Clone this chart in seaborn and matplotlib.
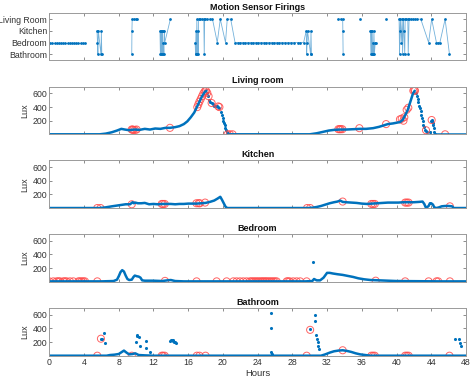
import numpy as np
import pandas as pd
import matplotlib
matplotlib.use('Agg')
import matplotlib.pyplot as plt
import seaborn as sns

nan = np.nan

# ---------------- data ----------------
room_names = ['Bathroom', 'Bedroom', 'Kitchen', 'Living Room']
room_code = {'Ba': 1, 'Be': 2, 'K': 3, 'L': 4}
hour_ticks = list(range(0, 49, 4))
lux_ticks = [200, 400, 600]

motion_t = [
    0.1, 0.35, 0.6, 0.85, 1.1, 1.35, 1.6, 1.85, 2.1, 2.35, 2.6, 2.85, 3.1, 3.35, 3.6, 3.85, 4.1, None,
    5.5, 5.55, 5.6, 5.65, 5.95, 6.0, 6.05, None,
    9.5, 9.52, 9.55, 9.75, 9.95, 10.05, None,
    12.75, 12.8, 12.85, 12.9, 12.95, 13.0, 13.05, 13.1, 13.15, 13.2, 13.25, 13.3, 13.95, None,
    16.8, 16.85, 16.9, 16.95, 17.0, 17.05, 17.1, 17.15, 17.2, 17.4, 17.6, 17.8, 17.85, 17.9, 18.2, 18.5, 18.8, 19.35, 19.7, 20.3, 20.5, 20.9, 21.4,
    21.7, 22.0, 22.3, 22.6, 22.9, 23.2, 23.5, 23.8, 24.1, 24.4, 24.7, 25.0, 25.3, 25.6, 25.9, 26.2, 26.5, 26.8, 27.2, 27.5, 27.9, 28.2, 28.6, 28.9, 29.3,
    29.6, 29.65, 29.7, 29.75, 30.1, 30.15, 30.2, None,
    33.3, 33.55, 33.8, 33.82, 33.85, None,
    35.8, None,
    37.0, 37.05, 37.1, 37.15, 37.2, 37.25, 37.3, 37.35, 37.4, 37.45, 37.55, 37.6, None,
    38.8, None,
    40.3, 40.35, 40.4, 40.45, 40.55, 40.65, 40.7, 40.8, 40.85, 40.95, 41.0, 41.15, 41.3, 41.35, 41.45, 41.7, 41.95, 42.15, 42.4, 42.8, 43.7, 44.05, 44.6, 44.8, 45.0, 45.6, 46.1,
]
motion_room = [
    'Be', 'Be', 'Be', 'Be', 'Be', 'Be', 'Be', 'Be', 'Be', 'Be', 'Be', 'Be', 'Be', 'Be', 'Be', 'Be', 'Be', None,
    'K', 'Be', 'Ba', 'K', 'Ba', 'K', 'Ba', None,
    'Ba', 'K', 'L', 'L', 'L', 'L', None,
    'K', 'Ba', 'K', 'Ba', 'K', 'Ba', 'K', 'Ba', 'Be', 'Ba', 'K', 'Be', 'L', None,
    'Be', 'Ba', 'K', 'Ba', 'L', 'Ba', 'K', 'Ba', 'L', 'L', 'L', 'L', 'Ba', 'L', 'L', 'L', 'L', 'Be', 'L', 'Be', 'L', 'L', 'Be',
    'Be', 'Be', 'Be', 'Be', 'Be', 'Be', 'Be', 'Be', 'Be', 'Be', 'Be', 'Be', 'Be', 'Be', 'Be', 'Be', 'Be', 'Be', 'Be', 'Be', 'Be', 'Be', 'Be', 'Be', 'Be',
    'K', 'Ba', 'Be', 'K', 'Ba', 'K', 'Ba', None,
    'L', 'L', 'L', 'K', 'Ba', None,
    'L', None,
    'K', 'Ba', 'K', 'Ba', 'K', 'Ba', 'Be', 'Ba', 'K', 'Ba', 'Be', 'Be', None,
    'L', None,
    'L', 'Ba', 'K', 'L', 'Be', 'L', 'Ba', 'L', 'K', 'Ba', 'L', 'L', 'L', 'Ba', 'L', 'L', 'L', 'L', 'L', 'L', 'Be', 'L', 'Be', 'Be', 'Be', 'L', 'Ba',
]

# Living room
lr_t = [0, 5.8, 6.5, 7.2, 7.8, 8.3, 8.7, 9.2, 9.8, 10.4, 11.0, 11.6, 12.2, 12.8, 13.4, 13.9, 14.5, 15.0, 15.5, 15.9,
        16.3, 16.7, 17.0, 17.3, 17.6, 17.9, 18.1, nan, 20.6, 30.0, 30.8, 31.5, 32.2, 32.8, 33.5, 34.2, 35.0, 35.8, 36.5, 37.3,
        38.0, 38.5, 39.0, 39.6, 40.0, 40.4, 40.7, 41.0, 41.3, 41.6, 41.9, 42.1, nan, 44.5, 48]
lr_lux = [0, 0, 10, 30, 55, 80, 70, 60, 70, 65, 80, 70, 85, 80, 95, 95, 105, 120, 150, 190,
          250, 320, 400, 480, 560, 620, 640, nan, 0, 0, 15, 35, 55, 65, 70, 70, 75, 80, 80, 90,
          110, 130, 150, 160, 170, 180, 210, 280, 360, 480, 600, 640, nan, 0, 0]
lr_dot_t = [18.2, 18.3, 18.43, 18.55, 18.7, 18.85, 19.0, 19.15, 19.3, 19.47, 19.6, 19.74, 19.85, 19.97, 20.05, 20.13, 20.2,
            20.28, 20.36, 20.43, 20.52, 42.22, 42.33, 42.43, 42.52, 42.64, 42.72, 42.8, 42.88, 42.95, 43.02, 43.1, 43.2, 43.3,
            43.4, 43.5, 43.86, 43.97, 44.05, 44.12, 44.18, 44.24, 44.3, 44.35, 44.42]
lr_dot_lux = [600, 560, 500, 470, 460, 440, 420, 415, 410, 405, 380, 330, 290, 240, 200, 160, 130,
              90, 60, 30, 10, 610, 570, 520, 480, 420, 390, 340, 290, 240, 190, 140, 100, 70,
              50, 40, 40, 190, 210, 200, 170, 140, 90, 40, 10]
lr_fire_t = [9.49, 9.6, 9.68, 9.87, 10.06, 13.9, 17.05, 17.17, 17.3, 17.45, 17.6, 17.75, 17.9, 18.05, 18.2, 18.35, 18.7,
             19.47, 19.6, 20.54, 20.8, 21.12, 33.3, 33.45, 33.57, 33.76, 35.72, 38.8, 40.4, 40.6, 40.8, 40.9, 41.17, 41.36,
             41.94, 42.05, 42.13, 43.4, 44.05, 45.6]
lr_fire_lux = [70, 70, 65, 65, 70, 95, 400, 440, 480, 520, 560, 600, 630, 640, 610, 560, 460,
               410, 400, 0, 0, 0, 75, 75, 75, 75, 90, 150, 220, 230, 200, 250, 360, 390,
               640, 650, 640, 60, 210, 0]

# Kitchen
k_t = [0, 5.8, 6.5, 7.2, 8.0, 8.8, 9.3, 9.6, 9.75, 9.9, 10.2, 10.6, 11.0, 11.5, 12.0, 12.5, 13.0, 13.5, 14.0, 14.5,
       15.0, 15.5, 16.0, 16.5, 17.0, 17.5, 18.0, 18.5, 19.0, 19.4, 19.7, 19.9, 20.1, 20.3, 20.5, 29.8, 30.3, 30.8, 31.3, 31.8,
       32.3, 32.8, 33.2, 33.5, 33.8, 34.2, 34.8, 35.4, 36.0, 36.6, 37.2, 37.8, 38.4, 39.0, 39.6, 40.2, 40.8, 41.4, 42.0, 42.6,
       43.0, 43.2, 43.35, 43.5, 43.7, 43.85, 44.0, 44.2, 44.35, 44.6, 44.9, 45.2, 45.6, 46.0, 46.4, 46.6, 48]
k_lux = [0, 0, 10, 25, 40, 55, 55, 85, 70, 80, 70, 70, 75, 55, 60, 55, 60, 60, 60, 55,
         60, 60, 65, 65, 65, 70, 75, 90, 110, 140, 165, 120, 70, 20, 0, 0, 5, 15, 30, 50,
         70, 85, 95, 110, 90, 85, 80, 75, 65, 60, 65, 70, 75, 80, 80, 80, 85, 85, 85, 90,
         95, 60, 15, 10, 30, 70, 70, 50, 10, 0, 10, 25, 30, 30, 25, 0, 0]
k_dot_t = []
k_dot_lux = []
k_fire_t = [5.53, 5.9, 9.5, 12.95, 13.1, 13.3, 16.95, 17.2, 17.35, 17.95, 29.7, 30.05, 33.8, 37.1, 37.3, 37.5, 41.0, 41.2,
            41.4, 46.15]
k_fire_lux = [0, 0, 55, 60, 60, 60, 70, 70, 70, 80, 0, 0, 95, 60, 60, 60, 80, 80,
              80, 25]

# Bedroom
b_t = [0, 3, 6, 7.4, 7.8, 8.0, 8.2, 8.4, 8.6, 8.8, 9.0, 9.2, 9.5, 9.7, 9.85, 10.1, 10.3, 10.5, 10.7, 11.0,
       12.0, 13.0, 13.6, 14.0, 14.5, 15.5, 20, 25, 29.5, 30.3, 30.5, 30.8, 31.2, 31.6, 32.0, 32.3, 32.7, 33.2, 33.8, 34.4,
       35.0, 35.6, 36.3, 37.0, 38.0, 39.0, 40.0, 42, 45, 48]
b_lux = [5, 5, 5, 10, 30, 80, 140, 170, 150, 90, 40, 25, 30, 70, 90, 80, 75, 60, 20, 15,
         15, 10, 20, 25, 10, 5, 5, 5, 5, 10, 40, 20, 20, 60, 130, 130, 120, 110, 100, 85,
         70, 50, 35, 25, 20, 15, 10, 8, 5, 5]
b_dot_t = [30.4]
b_dot_lux = [290]
b_fire_t = [0.0, 0.46, 0.85, 1.05, 1.23, 1.61, 1.8, 2.0, 2.38, 2.77, 3.35, 3.53, 3.73, 3.92, 4.11, 5.53, 13.33, 16.97,
            19.28, 20.43, 21.2, 21.58, 21.97, 22.35, 22.73, 23.1, 23.3, 23.5, 23.7, 23.9, 24.1, 24.3, 24.5, 24.65, 24.85,
            25.0, 25.2, 25.4, 25.6, 25.8, 26.0, 26.2, 27.35, 27.5, 27.7, 28.1, 28.5, 28.9, 29.65, 37.6, 41.0, 43.7, 44.6,
            44.8, 46.15]
b_fire_lux = [5, 5, 5, 5, 5, 5, 5, 5, 5, 5, 5, 5, 5, 5, 5, 5, 12, 5,
              5, 5, 5, 5, 5, 5, 5, 5, 5, 5, 5, 5, 5, 5, 5, 5, 5,
              5, 5, 5, 5, 5, 5, 5, 5, 5, 5, 5, 5, 5, 5, 15, 5, 5, 5,
              5, 5]

# Bathroom
ba_t = [0, 6.6, 7.0, 7.5, 8.0, 8.3, 8.6, 8.9, 9.2, 9.6, 9.9, 10.3, 11.0, 12.0, 13.0, 14.8, 20, 25, 31.3, 31.8,
        32.3, 32.8, 33.3, 33.8, 34.3, 34.8, 35.3, 35.8, 36.4, 37.0, 40, 48]
ba_lux = [0, 0, 10, 15, 25, 50, 75, 45, 20, 25, 35, 10, 5, 0, 0, 0, 0, 0, 0, 20,
          45, 65, 75, 80, 70, 55, 35, 20, 10, 0, 0, 0]
ba_dot_t = [6.0, 6.1, 6.3, 6.4, 10.0, 10.05, 10.15, 10.3, 10.5, 11.1, 11.15, 11.6, 13.9, 14.0, 14.1, 14.2, 14.3, 14.4,
            14.5, 14.6, 25.5, 25.5, 25.55, 25.65, 30.05, 30.6, 30.65, 30.75, 30.85, 30.95, 31.0, 31.1, 46.7, 47.2, 47.3,
            47.4]
ba_dot_lux = [250, 250, 330, 190, 200, 300, 290, 270, 140, 110, 220, 50, 210, 225, 230, 225, 215, 205,
              195, 185, 630, 400, 50, 30, 390, 600, 510, 300, 240, 200, 140, 100, 250, 240, 190,
              140]
ba_fire_t = [5.53, 5.95, 9.5, 12.95, 13.1, 13.3, 17.0, 17.3, 18.0, 29.65, 30.05, 33.8, 37.1, 37.3, 37.5, 41.0, 41.2, 41.4,
             46.1]
ba_fire_lux = [0, 250, 0, 0, 0, 0, 0, 0, 0, 0, 380, 80, 0, 0, 0, 0, 0, 0,
               0]

# ---------------- style ----------------
sns.set_theme(style='white')
plt.rcParams['font.family'] = ['Liberation Sans', 'DejaVu Sans']
plt.rcParams['font.size'] = 6.3

BLUE = '#0072BD'
RED = '#ff4848'
SPINE = '#9a9a9a'
TXT = '#333333'


def segmented(t, y):
    rows = []
    seg = 0
    for a, b in zip(t, y):
        if a is None or b is None or (isinstance(a, float) and np.isnan(a)):
            seg += 1
            continue
        rows.append((a, b, seg))
    return pd.DataFrame(rows, columns=['t', 'y', 'seg'])


def style(ax, show_xlabels):
    ax.set_xlim(0, 48)
    ax.set_xticks(hour_ticks)
    ax.tick_params(direction='in', length=2.5, width=0.6, color='#7a7a7a', labelsize=6.3,
                   labelcolor=TXT, top=True, right=True, bottom=True, left=True, pad=1.5)
    for s in ax.spines.values():
        s.set_color(SPINE)
        s.set_linewidth(0.7)
    ax.set_xlabel('')
    ax.set_ylabel('')
    if not show_xlabels:
        ax.set_xticklabels([])
    else:
        ax.set_xticklabels([str(h) for h in hour_ticks])


fig = plt.figure(figsize=(4.74, 3.81), dpi=100)
L, W = 0.104, 0.879

# Motion panel
axm = fig.add_axes([L, 0.8425, W, 0.1225])
mdf = segmented(motion_t, [room_code[r] if r is not None else None for r in motion_room])
sns.lineplot(data=mdf, x='t', y='y', units='seg', estimator=None, sort=False, ax=axm,
             color=BLUE, lw=0.6, alpha=0.55, legend=False)
sns.scatterplot(data=mdf, x='t', y='y', ax=axm, color=BLUE, s=4, linewidth=0, legend=False)
style(axm, False)
axm.set_ylim(0.5, 4.5)
axm.set_yticks([1, 2, 3, 4])
axm.set_yticklabels(room_names)
axm.set_title('Motion Sensor Firings', fontsize=6.5, fontweight='bold', pad=2.5, color='#111111')

panels = [
    ('Living room', 0.6475, lr_t, lr_lux, lr_dot_t, lr_dot_lux, lr_fire_t, lr_fire_lux),
    ('Kitchen', 0.454, k_t, k_lux, k_dot_t, k_dot_lux, k_fire_t, k_fire_lux),
    ('Bedroom', 0.2606, b_t, b_lux, b_dot_t, b_dot_lux, b_fire_t, b_fire_lux),
    ('Bathroom', 0.0664, ba_t, ba_lux, ba_dot_t, ba_dot_lux, ba_fire_t, ba_fire_lux),
]

for i, (name, bottom, t, lux, dt, dl, ft, fl) in enumerate(panels):
    ax = fig.add_axes([L, bottom, W, 0.125])
    cdf = segmented(t, lux)
    sns.lineplot(data=cdf, x='t', y='y', units='seg', estimator=None, sort=False, ax=ax,
                 color=BLUE, lw=1.8, legend=False)
    if len(dt):
        sns.scatterplot(x=dt, y=dl, ax=ax, color=BLUE, s=5, linewidth=0, legend=False)
    sns.scatterplot(x=ft, y=fl, ax=ax, marker='o', s=26, facecolor='none', edgecolor=RED,
                    linewidth=0.7, alpha=0.85, legend=False)
    last = i == len(panels) - 1
    style(ax, last)
    ax.set_ylim(0, 700)
    ax.set_yticks(lux_ticks)
    ax.set_yticklabels([str(v) for v in lux_ticks])
    ax.set_ylabel('Lux', fontsize=6.5, color=TXT, labelpad=2)
    ax.set_title(name, fontsize=6.5, fontweight='bold', pad=2.5, color='#111111')
    if last:
        ax.set_xlabel('Hours', fontsize=6.8, color=TXT, labelpad=1.5)

fig.savefig('out.png', dpi=100)
